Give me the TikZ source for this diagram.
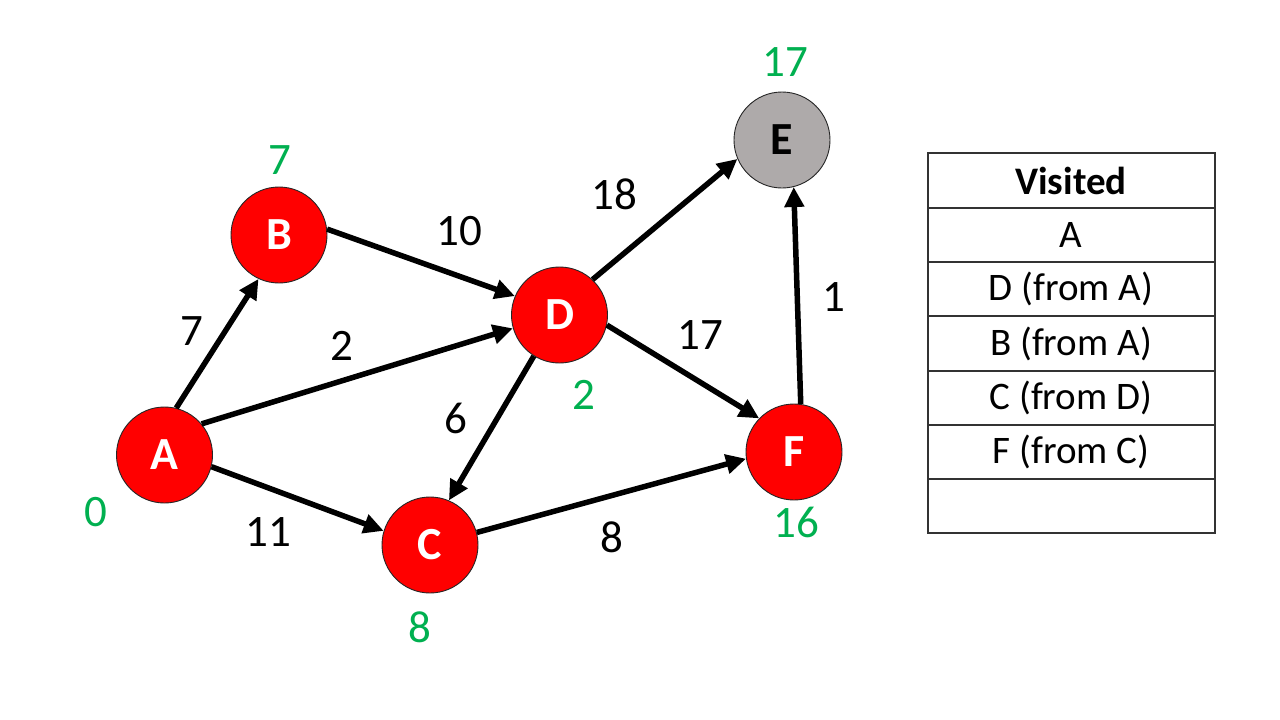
\documentclass[tikz,border=0pt]{standalone}
\usepackage{fontspec}
\setmainfont{Carlito}
\usetikzlibrary{arrows.meta}
\definecolor{ngreen}{HTML}{00B050}
\definecolor{nred}{HTML}{FF0000}
\definecolor{ngray}{HTML}{AEAAAA}
\tikzset{
  vertex/.style={circle, draw=black!85, line width=0.9pt, fill=nred, minimum size=96pt, inner sep=0pt,
    text=white, font=\fontsize{46}{46}\selectfont\bfseries},
  dist/.style={text=ngreen, font=\fontsize{45}{45}\selectfont, inner sep=0pt},
  wlab/.style={text=black, font=\fontsize{45}{45}\selectfont, inner sep=0pt},
  edge/.style={line width=5.5pt, -{Triangle[length=20pt,width=19pt]}},
  tline/.style={line width=1.2pt, draw=black!80},
  tcell/.style={font=\fontsize{39}{39}\selectfont, inner sep=0pt}
}
\begin{document}
\begin{tikzpicture}[x=1pt,y=-1pt]
\useasboundingbox (0,0) rectangle (1280,720);
\fill[white] (0,0) rectangle (1280,720);
% nodes
\node[vertex] (A) at (164.5,455) {A};
\node[vertex] (B) at (279,235) {B};
\node[vertex] (C) at (430,545) {C};
\node[vertex] (D) at (559.5,315) {D};
\node[vertex] (F) at (794,452) {F};
\node[vertex, fill=ngray, text=black] (E) at (782,140) {E};
% edges
\draw[edge] (A.76) -- (B.245);
\draw[edge] (A.40) -- (D.196);
\draw[edge] (A.-14) -- (C.163);
\draw[edge] (B.7) -- (D.157);
\draw[edge] (D.238) -- (C.67);
\draw[edge] (D.47) -- (E.203);
\draw[edge] (D.-12) -- (F.136);
\draw[edge] (C.15) -- (F.188);
\draw[edge] (F.82) -- (E.-76);
% edge weights
\node[wlab] (w1) at (192,331) {7};
\node[wlab] (w2) at (342,346) {2};
\node[wlab] (w3) at (268,532) {11};
\node[wlab] (w4) at (459,231) {10};
\node[wlab] (w5) at (456,418) {6};
\node[wlab] (w6) at (614,194) {18};
\node[wlab] (w7) at (700,335) {17};
\node[wlab] (w8) at (612,537) {8};
\node[wlab] (w9) at (834,297) {1};
% distances
\node[dist] (dA) at (96,512) {0};
\node[dist] (dB) at (280,160) {7};
\node[dist] (dC) at (420,627) {8};
\node[dist] (dD) at (584,395) {2};
\node[dist] (dE) at (785,62) {17};
\node[dist] (dF) at (796,522) {16};
% table
\draw[tline] (928,153) rectangle (1215,533);
\foreach \y in {208,262,316,371,425,479} \draw[tline] (928,\y) -- (1215,\y);
\node[tcell, font=\fontsize{39}{39}\selectfont\bfseries] (t0) at (1071,180.5) {Visited};
\node[tcell] (t1) at (1071,235) {A};
\node[tcell] (t2) at (1071,289) {D (from A)};
\node[tcell] (t3) at (1071,343.5) {B (from A)};
\node[tcell] (t4) at (1071,398) {C (from D)};
\node[tcell] (t5) at (1071,452) {F (from C)};
\end{tikzpicture}
\end{document}
